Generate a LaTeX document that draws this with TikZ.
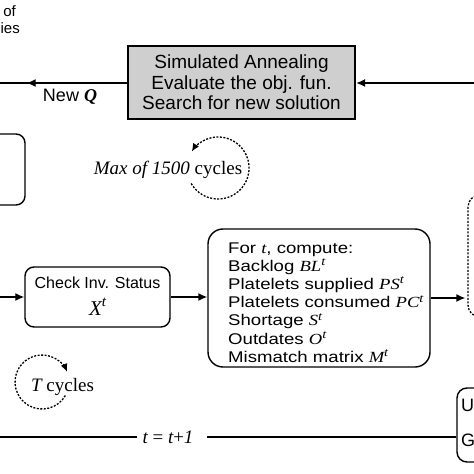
\documentclass[tikz,border=0pt]{standalone}
\usepackage{fontspec}
\setmainfont{Liberation Sans}
\newfontfamily\tms{Liberation Serif}
\newfontfamily\csans[FakeStretch=1.2]{Liberation Sans}
\newfontfamily\ctms[FakeStretch=1.2]{Liberation Serif}
\newcommand{\supT}{\raisebox{0.36em}{\fontsize{12bp}{12bp}\selectfont t}}
\usetikzlibrary{arrows.meta,decorations.markings}
\begin{document}
\begin{tikzpicture}[x=1bp,y=-1bp,
  arr/.style={line width=1.4bp,-{Latex[length=9bp,width=8bp]}},
  plain/.style={line width=1.3bp},
  rbox/.style={draw,line width=1.4bp,rounded corners=9bp,inner sep=0pt},
  sabox/.style={draw,line width=2.2bp,fill=black!19,inner sep=0pt,align=center,
     font=\fontsize{19bp}{20.5bp}\selectfont},
  dotarc/.style={line width=1.3bp,dash pattern=on 2bp off 1.5bp,-{Latex[length=8bp,width=7bp]}},
  lbl/.style={inner sep=0pt,font=\fontsize{18bp}{20bp}\selectfont},
  serlbl/.style={inner sep=0pt,font=\tms\fontsize{19bp}{21bp}\selectfont}
]
\useasboundingbox (0,0) rectangle (474,474);
\clip (0,0) rectangle (474,474);

% top-left fragments
\node[lbl,anchor=east,font=\fontsize{15bp}{17bp}\selectfont] (tla) at (16,11) {of};
\node[lbl,anchor=east,font=\fontsize{15bp}{17bp}\selectfont] (tlb) at (20,28) {ies};

% simulated annealing box
\node[sabox,minimum width=227bp,minimum height=73bp] (sa) at (241.5,82.5)
  {Simulated Annealing\\Evaluate the obj. fun.\\Search for new solution};
\coordinate (rin) at (474,83);
\draw[arr] (rin) -- (sa.east |- rin);
\coordinate (lout) at (0,83);
\draw[plain,postaction={decorate},decoration={markings,
   mark=at position 0.79 with {\arrow{Latex[length=9bp,width=8bp]}}}]
   (sa.west |- lout) -- (lout);
\node[lbl] (nq) at (70,97) {New {\tms\bfseries\itshape Q}};

% left partial box
\node[rbox,minimum width=100bp,minimum height=71bp] (lb) at (-25,169.5) {};

% max of 1500 cycles
\node[serlbl] (mx) at (168,170) {\itshape Max of 1500 \upshape cycles};
\draw[dotarc] (191.2,183.5) arc[start angle=210,end angle=508,radius=31bp];

% check inventory box
\node[rbox,minimum width=145bp,minimum height=60bp] (ck) at (97.5,297) {};
\node[inner sep=0pt,font=\fontsize{16bp}{18bp}\selectfont] (cka) at (97.5,283) {Check Inv. Status};
\node[inner sep=0pt,font=\tms\itshape\fontsize{21bp}{23bp}\selectfont] (ckb) at (97.5,307) {X\raisebox{0.42em}{\fontsize{15bp}{15bp}\selectfont t}};
\coordinate (ckin) at (0,297);
\draw[arr] (ckin) -- (ck.west);

% compute box
\node[rbox,rounded corners=15bp,minimum width=222bp,minimum height=138bp] (cp) at (319,298) {};
\node[anchor=west,align=left,inner sep=0pt,font=\csans\fontsize{15.5bp}{18.2bp}\selectfont] (cpt) at (228,302.5)
  {For {\ctms\itshape t}, compute:\\
   Backlog {\ctms\itshape BL\supT}\\
   Platelets supplied {\ctms\itshape PS\supT}\\
   Platelets consumed {\ctms\itshape PC\supT}\\
   Shortage {\ctms\itshape S\supT}\\
   Outdates {\ctms\itshape O\supT}\\
   Mismatch matrix {\ctms\itshape M\supT}};
\draw[arr] (ck.east) -- (cp.west |- ck.east);

% right dotted partial shape
\node[draw,line width=1.3bp,dash pattern=on 2bp off 1.5bp,rounded corners=12bp,
      minimum width=100bp,minimum height=122bp,inner sep=0pt] (sim) at (518,256) {};
\draw[arr,shorten >=2bp] (cp.east) -- (sim.west |- cp.east);

% T cycles
\node[serlbl] (tc) at (62.5,387) {\itshape T \upshape cycles};
\draw[dotarc] (65.4,395.5) arc[start angle=-30,end angle=-338,radius=27bp];

% bottom partial box and loop-back line
\node[rbox,rounded corners=10bp,minimum width=100bp,minimum height=74bp] (ub) at (507,425) {};
\node[lbl,anchor=west] (ua) at (461,405) {U};
\node[lbl,anchor=west] (ga) at (461,440) {G};
\node[serlbl] (tt) at (168,437) {\itshape t \upshape= \itshape t\upshape+\itshape 1};
\coordinate (bl) at (0,437);
\draw[plain] (ub.west |- tt) -- ([xshift=13bp]tt.east);
\draw[plain] ([xshift=-5bp]tt.west) -- (bl);
\end{tikzpicture}
\end{document}
